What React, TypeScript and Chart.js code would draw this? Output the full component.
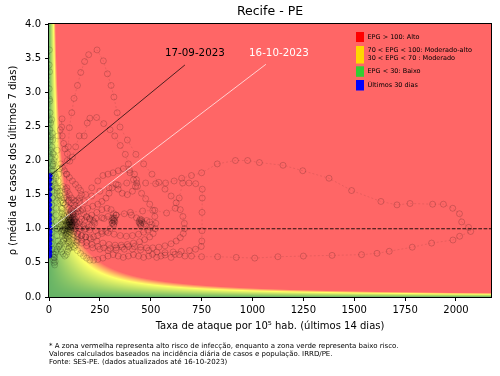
import React, { useEffect, useRef } from 'react';
import { Chart, registerables } from 'chart.js';

Chart.register(...registerables);

const FONT = '"DejaVu Sans", sans-serif';

const TITLE = 'Recife - PE';
const X_TITLE = 'Taxa de ataque por 10\u2075 hab. (últimos 14 dias)';
const Y_TITLE = 'ρ (média de casos dos últimos 7 dias)';
const FOOTER = [
  '* A zona vermelha representa alto risco de infecção, enquanto a zona verde representa baixo risco.',
  'Valores calculados baseados na incidência diária de casos e população. IRRD/PE.',
  'Fonte: SES-PE. (dados atualizados até 16-10-2023)',
];
const LEGEND_LABELS = [
  ['EPG > 100: Alto'],
  ['70 < EPG < 100: Moderado-alto', '30 < EPG < 70 : Moderado'],
  ['EPG < 30: Baixo'],
  ['Últimos 30 dias'],
];
const LEGEND_COLORS = ['#ff0000', '#ffd700', '#32cd32', '#0000ff'];

const X_MAX = 2172;
const Y_MAX = 4;
const X_TICKS = [0, 250, 500, 750, 1000, 1250, 1500, 1750, 2000];
const Y_TICKS = [0, 0.5, 1, 1.5, 2, 2.5, 3, 3.5, 4];

const ANNOT_FIRST = '17-09-2023';
const ANNOT_LAST = '16-10-2023';
const ANNOT_TEXT_POS: [number, number][] = [[717, 3.575], [1130, 3.575]];
const ANNOT_LINE_END: [number, number][] = [[668, 3.4], [1066, 3.41]];

// EPG colour stops (EPG value -> colour)
const EPG_STOPS = [0, 90, 130];
const EPG_COLORS = [
  [102, 179, 102],
  [255, 255, 102],
  [255, 102, 102],
];

type P = [number, number];

const early2020: P[] = [
  [2, 1.2], [3, 1.6], [1, 2.1], [2, 2.6], [1, 3.05], [1, 3.4], [2, 3.62], [3, 3.3], [2, 2.9], [4, 2.87],
  [5, 2.7], [4, 2.45], [6, 2.3], [8, 2.55], [10, 2.35], [7, 2.15], [11, 2.05], [14, 2.2], [16, 2.4], [13, 2.6],
  [18, 2.3], [20, 2.1], [17, 1.95], [22, 1.85], [25, 2.0], [28, 1.8], [24, 1.7], [30, 1.65], [35, 1.75], [38, 1.6],
  [42, 1.55], [45, 1.45], [50, 1.5], [55, 1.4], [60, 1.3], [66, 1.25], [72, 1.2], [78, 1.12], [84, 1.05], [88, 1.0],
  [90, 0.95], [86, 0.9], [80, 0.86], [72, 0.82], [64, 0.8], [56, 0.77], [48, 0.74], [40, 0.7], [34, 0.66], [28, 0.62],
  [24, 0.58], [22, 0.54], [25, 0.5], [28, 0.47], [30, 0.52], [27, 0.58], [20, 0.63], [16, 0.7], [12, 0.78], [10, 0.86],
  [12, 0.95], [14, 1.05], [12, 1.15], [10, 1.25], [13, 1.35], [16, 1.45], [14, 1.55], [11, 1.62], [9, 1.7], [12, 1.78],
  [15, 1.85], [18, 1.92],
];

const wave1: P[] = [
  [22, 1.95], [30, 2.05], [40, 2.15], [44, 2.36], [55, 2.45], [64, 2.61], [62, 2.49], [65, 2.36], [72, 2.25], [79, 2.17],
  [90, 2.1], [102, 1.99], [115, 2.05], [131, 2.2], [149, 2.36], [173, 2.36], [188, 2.55], [201, 2.62], [234, 2.63], [269, 2.54],
  [300, 2.45], [323, 2.36], [350, 2.22], [375, 2.09], [390, 1.95], [398, 1.82], [415, 1.72], [435, 1.62], [455, 1.52], [475, 1.44],
  [495, 1.36], [510, 1.27], [520, 1.18], [525, 1.08], [522, 1.0], [512, 0.93], [495, 0.88], [470, 0.84], [445, 0.81], [415, 0.79],
  [385, 0.77], [355, 0.76], [325, 0.76], [295, 0.77], [265, 0.79], [235, 0.82], [205, 0.85], [180, 0.88], [160, 0.9], [140, 0.93],
  [122, 0.96], [108, 0.98],
];

const wave2: P[] = [
  [95, 1.05], [100, 1.2], [95, 1.4], [88, 1.6], [85, 1.8], [90, 2.0], [95, 2.2], [100, 2.48], [112, 2.7], [123, 2.91],
  [140, 3.1], [156, 3.29], [175, 3.45], [195, 3.55], [236, 3.62], [267, 3.46], [287, 3.27], [305, 3.1], [319, 2.93], [335, 2.7],
  [349, 2.49], [385, 2.3], [427, 2.09], [465, 1.95], [506, 1.8], [540, 1.68], [570, 1.58], [600, 1.48], [625, 1.38], [645, 1.28],
  [658, 1.18], [665, 1.08], [666, 1.0], [660, 0.93], [645, 0.87], [625, 0.82], [600, 0.78], [570, 0.75], [540, 0.73], [510, 0.72],
  [480, 0.72], [450, 0.73], [420, 0.74], [390, 0.74], [360, 0.73], [330, 0.72], [300, 0.71], [270, 0.72], [240, 0.74], [210, 0.77],
  [185, 0.8], [160, 0.84], [140, 0.88], [120, 0.92], [105, 0.95],
];

const wave3: P[] = [
  [100, 1.1], [120, 1.2], [145, 1.3], [175, 1.4], [210, 1.48], [250, 1.55], [295, 1.6], [340, 1.64], [382, 1.67], [431, 1.67],
  [475, 1.67], [524, 1.66], [573, 1.67], [615, 1.7], [652, 1.74], [700, 1.78], [750, 1.82], [827, 1.95], [916, 2.0], [976, 2.0],
  [1034, 1.97], [1150, 1.93], [1247, 1.85], [1376, 1.74], [1487, 1.56], [1631, 1.4], [1710, 1.35], [1774, 1.37], [1885, 1.36], [1938, 1.36],
  [1984, 1.3], [2017, 1.22], [2028, 1.1], [2062, 1.02], [2072, 0.96], [2018, 0.89], [1985, 0.835], [1880, 0.79], [1785, 0.73], [1672, 0.67],
  [1612, 0.64], [1536, 0.62], [1391, 0.61], [1250, 0.6], [1125, 0.59], [1011, 0.57], [920, 0.58], [829, 0.59], [750, 0.59], [700, 0.6],
  [668, 0.6], [640, 0.62], [619, 0.625], [600, 0.58], [570, 0.615], [550, 0.6], [529, 0.58], [509, 0.625], [490, 0.6], [465, 0.58],
  [440, 0.6], [415, 0.62], [390, 0.6], [365, 0.58], [340, 0.6], [315, 0.62], [290, 0.6], [265, 0.57], [240, 0.55], [220, 0.54],
  [201, 0.54], [185, 0.57], [170, 0.6], [155, 0.64], [140, 0.68], [125, 0.72], [110, 0.77], [98, 0.82],
];

const wave4: P[] = [
  [130, 1.0], [170, 1.05], [220, 1.1], [270, 1.15], [330, 1.2], [400, 1.24], [460, 1.26], [520, 1.27], [578, 1.23], [620, 1.3],
  [640, 1.45], [657, 1.67], [688, 1.67], [721, 1.66], [753, 1.58], [753, 1.45], [752, 1.24], [752, 0.97], [751, 0.82], [748, 0.74],
  [720, 0.7], [690, 0.68], [650, 0.67], [610, 0.66], [570, 0.65], [530, 0.66], [490, 0.68], [450, 0.69], [410, 0.7], [370, 0.7],
  [330, 0.69], [290, 0.68], [250, 0.7], [215, 0.72], [185, 0.75], [160, 0.79], [140, 0.83], [120, 0.87], [100, 0.9],
];

const wave5: P[] = [
  [90, 1.0], [110, 1.05], [135, 1.1], [160, 1.14], [185, 1.17], [210, 1.2], [235, 1.24], [260, 1.28], [285, 1.3], [305, 1.28],
  [318, 1.22], [322, 1.16], [318, 1.11], [312, 1.09], [308, 1.12], [312, 1.16], [320, 1.15], [324, 1.1], [318, 1.07], [310, 1.08],
  [315, 1.13], [322, 1.12], [318, 1.05], [300, 1.0], [280, 0.96], [260, 0.93], [240, 0.9], [220, 0.88], [200, 0.87], [180, 0.88],
  [160, 0.9], [140, 0.93], [125, 0.97], [115, 1.02], [130, 1.06], [150, 1.1], [175, 1.12], [200, 1.14], [230, 1.15], [260, 1.16],
  [290, 1.18], [330, 1.2], [370, 1.22], [405, 1.2], [430, 1.16], [445, 1.12], [450, 1.08], [455, 1.11], [448, 1.14], [442, 1.1],
  [450, 1.06], [460, 1.09], [455, 1.13], [445, 1.08], [452, 1.04], [468, 1.07], [480, 1.12], [495, 1.1], [505, 1.06], [500, 1.02],
  [485, 0.98], [465, 0.95], [440, 0.92], [410, 0.9], [380, 0.89], [350, 0.9], [320, 0.92], [290, 0.94], [260, 0.96], [230, 0.97],
  [200, 0.98], [175, 0.99], [150, 1.0],
];

const wave6: P[] = [
  [120, 1.3], [150, 1.4], [180, 1.5], [210, 1.6], [240, 1.7], [265, 1.78], [290, 1.8], [315, 1.82], [340, 1.85], [365, 1.88],
  [395, 1.86], [420, 1.8], [430, 1.72], [425, 1.62], [410, 1.55], [385, 1.5], [360, 1.52], [340, 1.58], [330, 1.65], [310, 1.6],
  [295, 1.52], [280, 1.45], [260, 1.4], [240, 1.36], [215, 1.33], [190, 1.3], [165, 1.28], [140, 1.25], [120, 1.22],
];

const wave7: P[] = [
  [40, 1.0], [50, 1.05], [60, 1.1], [70, 1.15], [80, 1.12], [88, 1.08], [95, 1.12], [102, 1.16], [108, 1.12], [104, 1.07],
  [96, 1.05], [100, 1.1], [110, 1.1], [118, 1.06], [112, 1.02], [104, 1.0], [96, 0.98], [104, 1.02], [112, 1.06], [120, 1.1],
  [128, 1.14], [135, 1.18], [130, 1.22], [120, 1.25], [110, 1.28], [100, 1.3], [90, 1.32], [80, 1.35], [70, 1.38], [62, 1.42],
  [56, 1.48], [52, 1.55], [60, 1.6], [70, 1.62], [80, 1.58], [90, 1.55], [100, 1.5], [110, 1.45], [120, 1.42], [130, 1.4],
  [140, 1.42], [150, 1.45], [160, 1.5], [155, 1.56], [145, 1.6], [130, 1.65], [115, 1.7], [100, 1.75], [88, 1.8], [76, 1.85],
  [66, 1.9], [58, 1.95], [52, 1.88], [48, 1.8], [45, 1.7], [42, 1.6], [40, 1.5], [38, 1.4], [36, 1.3], [35, 1.2],
  [36, 1.1], [38, 1.0], [40, 0.9], [44, 0.82], [50, 0.75], [56, 0.7], [62, 0.66], [70, 0.63], [78, 0.6], [85, 0.62],
  [90, 0.66], [95, 0.7], [100, 0.75], [95, 0.8], [88, 0.85], [80, 0.9], [72, 0.94], [64, 0.97], [56, 1.0],
];

const wave8: P[] = [
  [60, 0.95], [70, 0.98], [80, 1.02], [92, 1.06], [100, 1.1], [107, 1.13], [113, 1.09], [105, 1.06], [98, 1.09], [106, 1.12],
  [114, 1.15], [125, 1.12], [138, 1.08], [150, 1.04], [165, 1.02], [180, 1.0], [195, 1.02], [210, 1.05], [225, 1.08], [215, 1.12],
  [200, 1.15], [185, 1.18], [170, 1.22], [155, 1.26], [140, 1.3], [125, 1.34], [110, 1.38], [98, 1.42], [88, 1.46], [80, 1.5],
  [74, 1.45], [70, 1.38], [66, 1.3], [64, 1.22], [66, 1.14], [70, 1.06], [76, 0.98], [84, 0.92], [92, 0.88], [100, 0.86],
  [110, 0.84], [120, 0.83], [130, 0.82], [138, 0.8], [130, 0.76], [120, 0.74], [110, 0.73], [100, 0.72], [90, 0.74], [80, 0.78],
  [72, 0.84], [66, 0.9],
];

const wave9: P[] = [
  [55, 1.02], [62, 1.06], [68, 1.12], [75, 1.18], [82, 1.22], [90, 1.2], [97, 1.15], [103, 1.1], [99, 1.06], [93, 1.03],
  [87, 1.06], [92, 1.1], [98, 1.13], [105, 1.16], [111, 1.2], [117, 1.17], [121, 1.12], [116, 1.08], [109, 1.05], [101, 1.03],
  [95, 1.0], [88, 0.97], [82, 0.99], [78, 1.04], [84, 1.09], [90, 1.14], [96, 1.18], [103, 1.22], [110, 1.25], [118, 1.22],
  [124, 1.16], [128, 1.1], [123, 1.05], [116, 1.01], [108, 0.98], [100, 0.95], [92, 0.93], [84, 0.94], [76, 0.96], [68, 0.99],
];

const last30: P[] = [
  [6, 1.78], [5, 1.72], [4, 1.65], [5, 1.58], [4, 1.5], [3, 1.42], [4, 1.35], [3, 1.28], [4, 1.2], [3, 1.14],
  [4, 1.08], [3, 1.02], [4, 0.96], [3, 0.9], [4, 0.84], [3, 0.78], [4, 0.72], [3, 0.67], [4, 0.62], [3, 0.6],
  [4, 0.66], [3, 0.72], [4, 0.78], [5, 0.84], [4, 0.9], [5, 0.95], [6, 1.0],
];

const history: P[] = [
  ...early2020, ...wave1, ...wave2, ...wave3, ...wave4, ...wave5, ...wave6, ...wave7, ...wave8, ...wave9,
];

function epgColor(e: number): number[] {
  if (e <= EPG_STOPS[0]) return EPG_COLORS[0];
  for (let i = 1; i < EPG_STOPS.length; i++) {
    if (e <= EPG_STOPS[i]) {
      const t = (e - EPG_STOPS[i - 1]) / (EPG_STOPS[i] - EPG_STOPS[i - 1]);
      const a = EPG_COLORS[i - 1];
      const b = EPG_COLORS[i];
      return [a[0] + (b[0] - a[0]) * t, a[1] + (b[1] - a[1]) * t, a[2] + (b[2] - a[2]) * t];
    }
  }
  return EPG_COLORS[EPG_COLORS.length - 1];
}

const heatmapPlugin = {
  id: 'heatmap',
  beforeDatasetsDraw(chart: any) {
    const { ctx, chartArea: a, scales } = chart;
    const xs = scales.x;
    const ys = scales.y;
    const w = Math.round(a.right - a.left);
    const h = Math.round(a.bottom - a.top);
    const off = document.createElement('canvas');
    off.width = w;
    off.height = h;
    const octx = off.getContext('2d')!;
    const img = octx.createImageData(w, h);
    for (let j = 0; j < h; j++) {
      const yv = ys.getValueForPixel(a.top + j + 0.5);
      for (let i = 0; i < w; i++) {
        const xv = xs.getValueForPixel(a.left + i + 0.5);
        const c = epgColor(Math.max(0, xv) * Math.max(0, yv));
        const k = (j * w + i) * 4;
        img.data[k] = c[0];
        img.data[k + 1] = c[1];
        img.data[k + 2] = c[2];
        img.data[k + 3] = 255;
      }
    }
    octx.putImageData(img, 0, 0);
    ctx.save();
    ctx.drawImage(off, a.left, a.top);
    ctx.restore();
  },
  afterDatasetsDraw(chart: any) {
    const { ctx, chartArea: a, scales } = chart;
    const xs = scales.x;
    const ys = scales.y;
    ctx.save();
    // dashed rho = 1 line
    const y1 = ys.getPixelForValue(1);
    ctx.beginPath();
    ctx.setLineDash([3.7, 1.6]);
    ctx.strokeStyle = 'rgba(0,0,0,0.85)';
    ctx.lineWidth = 1;
    ctx.moveTo(a.left, y1);
    ctx.lineTo(a.right, y1);
    ctx.stroke();
    ctx.setLineDash([]);

    // annotations
    const pts = [last30[0], last30[last30.length - 1]];
    const labels = [ANNOT_FIRST, ANNOT_LAST];
    const colors = ['#000', '#fff'];
    for (let i = 0; i < 2; i++) {
      ctx.beginPath();
      ctx.strokeStyle = colors[i];
      ctx.lineWidth = 0.7;
      ctx.moveTo(xs.getPixelForValue(pts[i][0]), ys.getPixelForValue(pts[i][1]));
      ctx.lineTo(xs.getPixelForValue(ANNOT_LINE_END[i][0]), ys.getPixelForValue(ANNOT_LINE_END[i][1]));
      ctx.stroke();
      ctx.fillStyle = colors[i];
      ctx.font = `10.3px ${FONT}`;
      ctx.textAlign = 'center';
      ctx.textBaseline = 'middle';
      ctx.fillText(labels[i], xs.getPixelForValue(ANNOT_TEXT_POS[i][0]), ys.getPixelForValue(ANNOT_TEXT_POS[i][1]));
    }

    // legend
    const lx = a.right - 135;
    const patches = [
      { top: a.top + 8, h: 10, lines: [a.top + 13.5] },
      { top: a.top + 22, h: 17.5, lines: [a.top + 26.7, a.top + 34.3] },
      { top: a.top + 42.3, h: 10.5, lines: [a.top + 47.2] },
      { top: a.top + 56, h: 10.5, lines: [a.top + 61.3] },
    ];
    ctx.font = `6.5px ${FONT}`;
    ctx.textAlign = 'left';
    ctx.textBaseline = 'middle';
    patches.forEach((p, i) => {
      ctx.fillStyle = LEGEND_COLORS[i];
      ctx.fillRect(lx, p.top, 8, p.h);
      ctx.fillStyle = '#000';
      LEGEND_LABELS[i].forEach((t, k) => ctx.fillText(t, lx + 11.5, p.lines[k]));
    });

    // frame
    ctx.strokeStyle = '#000';
    ctx.lineWidth = 1;
    ctx.strokeRect(a.left - 0.5, a.top - 0.5, a.right - a.left + 1, a.bottom - a.top + 1);
    ctx.restore();
  },
  afterDraw(chart: any) {
    const { ctx, chartArea: a } = chart;
    ctx.save();
    ctx.fillStyle = '#000';
    ctx.textBaseline = 'middle';
    ctx.textAlign = 'center';
    ctx.font = `12.5px ${FONT}`;
    ctx.fillText(TITLE, (a.left + a.right) / 2, 12);
    ctx.font = `10px ${FONT}`;
    ctx.fillText(X_TITLE, (a.left + a.right) / 2, 326.5);
    ctx.save();
    ctx.translate(13, (a.top + a.bottom) / 2);
    ctx.rotate(-Math.PI / 2);
    ctx.fillText(Y_TITLE, 0, 0);
    ctx.restore();
    ctx.textAlign = 'left';
    ctx.font = `7px ${FONT}`;
    FOOTER.forEach((t, i) => ctx.fillText(t, 49, 346 + i * 8.3));
    ctx.restore();
  },
};

export default function App() {
  const ref = useRef<HTMLCanvasElement>(null);
  useEffect(() => {
    const canvas = ref.current!;
    const chart = new Chart(canvas, {
      type: 'scatter',
      data: {
        datasets: [
          {
            data: history.map(([x, y]) => ({ x, y })),
            showLine: true,
            borderColor: 'rgba(0,0,0,0.13)',
            borderWidth: 0.7,
            borderDash: [2, 2],
            pointRadius: 3,
            pointBorderWidth: 0.8,
            pointBorderColor: 'rgba(0,0,0,0.22)',
            pointBackgroundColor: 'rgba(0,0,0,0)',
            clip: 0,
          } as any,
          {
            data: last30.map(([x, y]) => ({ x, y })),
            showLine: true,
            borderColor: '#0000ff',
            borderWidth: 1,
            pointRadius: 2,
            pointBorderWidth: 0.8,
            pointBorderColor: '#0000ff',
            pointBackgroundColor: '#0000ff',
            clip: 0,
          } as any,
        ],
      },
      options: {
        responsive: false,
        animation: false,
        events: [],
        layout: { padding: { left: 0, right: 9, top: 24, bottom: 0 } },
        plugins: { legend: { display: false }, tooltip: { enabled: false }, title: { display: false } },
        scales: {
          x: {
            type: 'linear',
            min: 0,
            max: X_MAX,
            afterBuildTicks: (s: any) => {
              s.ticks = X_TICKS.map((v) => ({ value: v }));
            },
            afterFit: (s: any) => {
              s.height = 79;
            },
            ticks: {
              color: '#000',
              font: { family: FONT, size: 10 },
              padding: 3,
              maxRotation: 0,
              autoSkip: false,
              callback: (v: any) => String(v),
            },
            grid: { display: true, drawOnChartArea: false, drawTicks: true, tickLength: 4, color: '#000' },
            border: { display: false },
          },
          y: {
            type: 'linear',
            min: 0,
            max: Y_MAX,
            afterBuildTicks: (s: any) => {
              s.ticks = Y_TICKS.map((v) => ({ value: v }));
            },
            afterFit: (s: any) => {
              s.width = 49;
            },
            ticks: {
              color: '#000',
              font: { family: FONT, size: 10 },
              padding: 4,
              autoSkip: false,
              callback: (v: any) => Number(v).toFixed(1),
            },
            grid: { display: true, drawOnChartArea: false, drawTicks: true, tickLength: 4, color: '#000' },
            border: { display: false },
          },
        },
      } as any,
      plugins: [heatmapPlugin],
    });
    return () => chart.destroy();
  }, []);
  return (
    <div style={{ position: 'fixed', left: 0, top: 0, width: 500, height: 376, background: '#fff' }}>
      <canvas ref={ref} width={500} height={376} style={{ width: 500, height: 376, display: 'block' }} />
    </div>
  );
}
